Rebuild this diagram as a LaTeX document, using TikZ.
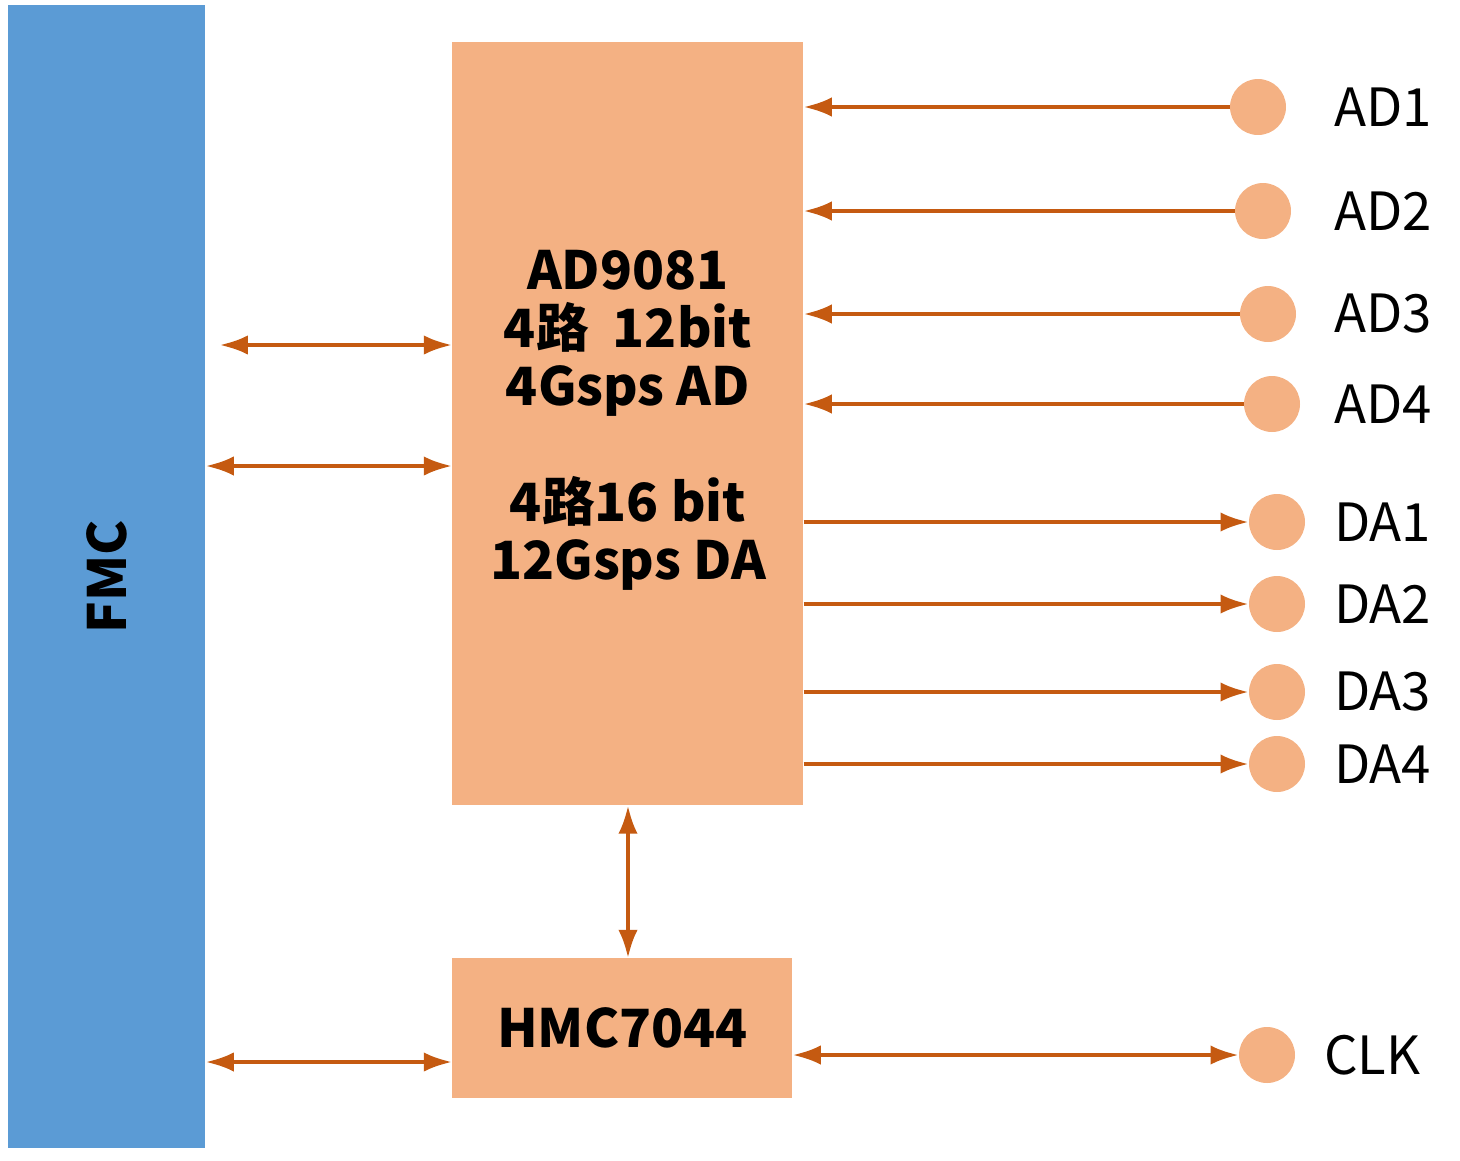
\documentclass[tikz,border=0pt]{standalone}
\usepackage{fontspec}
\setmainfont{Noto Sans CJK SC}
\usetikzlibrary{positioning,arrows.meta}
\definecolor{fmcblue}{HTML}{5B9BD5}
\definecolor{chipfill}{HTML}{F4B183}
\definecolor{wire}{HTML}{C55A11}
\begin{document}
\begin{tikzpicture}[x=0.02cm,y=-0.02cm]
	\tikzset{BlockStyle/.style = {
		draw=none, fill=chipfill, align=center,
		font=\fontsize{30}{33}\selectfont\bfseries
	}}
	\tikzset{PortStyle/.style = {
		shape=circle, fill=chipfill, minimum size=1.12cm, inner sep=0pt
	}}
	\tikzset{Wire/.style = {draw=wire, line width=2.2pt, -{Latex[length=16pt,width=11pt]}}}
	\tikzset{BiWire/.style = {Wire, {Latex[length=16pt,width=11pt]}-{Latex[length=16pt,width=11pt]}}}
	\tikzset{LabelStyle/.style = {font=\fontsize{30}{33}\selectfont, anchor=west}}
	\useasboundingbox (0,0) rectangle (1460,1160);
	% blocks
	\node[fill=fmcblue, minimum width=3.94cm, minimum height=22.86cm, anchor=north west] (fmc) at (8,5) {};
	\node[rotate=90, font=\fontsize{30}{33}\selectfont\bfseries] at (fmc.center) {FMC};
	\node[BlockStyle, minimum width=7.02cm, minimum height=15.26cm, anchor=north west] (ad) at (452,42) {};
	\node[BlockStyle] at (628,420) {AD9081\\4路\ \ 12bit\\4Gsps AD\\[33pt]4路16 bit\\12Gsps DA};
	\node[BlockStyle, minimum width=6.8cm, minimum height=2.8cm, anchor=north west] (hmc) at (452,958) {HMC7044};
	% ports
	\foreach \n/\x/\y in {AD1/1258/107, AD2/1263/211, AD3/1268/314, AD4/1272/404} {
		\node[PortStyle] (\n) at (\x,\y) {};
		\node[LabelStyle] at (1328,\y) {\n};
		\draw[Wire] (\n.west) -- (ad.east |- \n);
	}
	\foreach \n/\x/\y in {DA1/1277/522, DA2/1277/604, DA3/1277/692, DA4/1277/764} {
		\node[PortStyle] (\n) at (\x,\y) {};
		\node[LabelStyle] at (1328,\y) {\n};
		\draw[Wire] (ad.east |- \n) -- (\n.west);
	}
	\node[PortStyle] (clk) at (1267,1055) {};
	\node[LabelStyle] at (1318,1055) {CLK};
	% links
	\coordinate (l1) at (0,345);
	\coordinate (l2) at (0,466);
	\coordinate (l3) at (0,1062);
	\draw[BiWire] ([xshift=8pt]fmc.east |- l1) -- (ad.west |- l1);
	\draw[BiWire] (fmc.east |- l2) -- (ad.west |- l2);
	\draw[BiWire] (fmc.east |- l3) -- (hmc.west |- l3);
	\draw[BiWire] (hmc.east |- clk) -- (clk.west);
	\draw[BiWire] (ad.south -| 628,0) -- (hmc.north -| 628,0);
\end{tikzpicture}
\end{document}
